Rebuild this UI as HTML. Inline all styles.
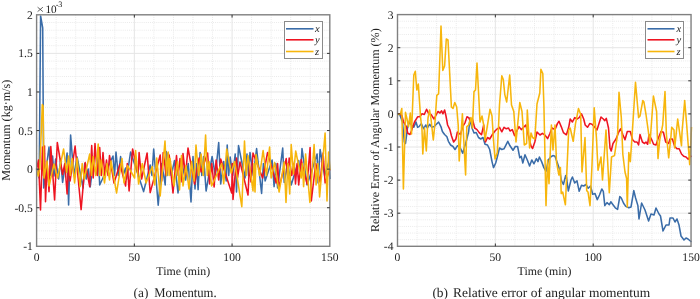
<!DOCTYPE html><html><head><meta charset="utf-8"><style>html,body{margin:0;padding:0;background:#fff;width:700px;height:299px;overflow:hidden}svg{font-family:"Liberation Serif",serif;display:block;text-rendering:geometricPrecision;filter:blur(0.3px)}</style></head><body><svg width="700" height="299" viewBox="0 0 700 299" font-family="Liberation Serif, serif" fill="#222">
<rect width="700" height="299" fill="#fff"/>
<line x1="36.6" x2="329.8" y1="238.58" y2="238.58" stroke="#eaeaea" stroke-width="1" stroke-dasharray="1,1.1"/>
<line x1="36.6" x2="329.8" y1="230.87" y2="230.87" stroke="#eaeaea" stroke-width="1" stroke-dasharray="1,1.1"/>
<line x1="36.6" x2="329.8" y1="223.15" y2="223.15" stroke="#eaeaea" stroke-width="1" stroke-dasharray="1,1.1"/>
<line x1="36.6" x2="329.8" y1="215.43" y2="215.43" stroke="#eaeaea" stroke-width="1" stroke-dasharray="1,1.1"/>
<line x1="36.6" x2="329.8" y1="200.00" y2="200.00" stroke="#eaeaea" stroke-width="1" stroke-dasharray="1,1.1"/>
<line x1="36.6" x2="329.8" y1="192.28" y2="192.28" stroke="#eaeaea" stroke-width="1" stroke-dasharray="1,1.1"/>
<line x1="36.6" x2="329.8" y1="184.57" y2="184.57" stroke="#eaeaea" stroke-width="1" stroke-dasharray="1,1.1"/>
<line x1="36.6" x2="329.8" y1="176.85" y2="176.85" stroke="#eaeaea" stroke-width="1" stroke-dasharray="1,1.1"/>
<line x1="36.6" x2="329.8" y1="161.42" y2="161.42" stroke="#eaeaea" stroke-width="1" stroke-dasharray="1,1.1"/>
<line x1="36.6" x2="329.8" y1="153.70" y2="153.70" stroke="#eaeaea" stroke-width="1" stroke-dasharray="1,1.1"/>
<line x1="36.6" x2="329.8" y1="145.98" y2="145.98" stroke="#eaeaea" stroke-width="1" stroke-dasharray="1,1.1"/>
<line x1="36.6" x2="329.8" y1="138.27" y2="138.27" stroke="#eaeaea" stroke-width="1" stroke-dasharray="1,1.1"/>
<line x1="36.6" x2="329.8" y1="122.83" y2="122.83" stroke="#eaeaea" stroke-width="1" stroke-dasharray="1,1.1"/>
<line x1="36.6" x2="329.8" y1="115.12" y2="115.12" stroke="#eaeaea" stroke-width="1" stroke-dasharray="1,1.1"/>
<line x1="36.6" x2="329.8" y1="107.40" y2="107.40" stroke="#eaeaea" stroke-width="1" stroke-dasharray="1,1.1"/>
<line x1="36.6" x2="329.8" y1="99.68" y2="99.68" stroke="#eaeaea" stroke-width="1" stroke-dasharray="1,1.1"/>
<line x1="36.6" x2="329.8" y1="84.25" y2="84.25" stroke="#eaeaea" stroke-width="1" stroke-dasharray="1,1.1"/>
<line x1="36.6" x2="329.8" y1="76.53" y2="76.53" stroke="#eaeaea" stroke-width="1" stroke-dasharray="1,1.1"/>
<line x1="36.6" x2="329.8" y1="68.82" y2="68.82" stroke="#eaeaea" stroke-width="1" stroke-dasharray="1,1.1"/>
<line x1="36.6" x2="329.8" y1="61.10" y2="61.10" stroke="#eaeaea" stroke-width="1" stroke-dasharray="1,1.1"/>
<line x1="36.6" x2="329.8" y1="45.67" y2="45.67" stroke="#eaeaea" stroke-width="1" stroke-dasharray="1,1.1"/>
<line x1="36.6" x2="329.8" y1="37.95" y2="37.95" stroke="#eaeaea" stroke-width="1" stroke-dasharray="1,1.1"/>
<line x1="36.6" x2="329.8" y1="30.23" y2="30.23" stroke="#eaeaea" stroke-width="1" stroke-dasharray="1,1.1"/>
<line x1="36.6" x2="329.8" y1="22.52" y2="22.52" stroke="#eaeaea" stroke-width="1" stroke-dasharray="1,1.1"/>
<line y1="14.8" y2="246.3" x1="56.15" x2="56.15" stroke="#eaeaea" stroke-width="1" stroke-dasharray="1,1.1"/>
<line y1="14.8" y2="246.3" x1="75.69" x2="75.69" stroke="#eaeaea" stroke-width="1" stroke-dasharray="1,1.1"/>
<line y1="14.8" y2="246.3" x1="95.24" x2="95.24" stroke="#eaeaea" stroke-width="1" stroke-dasharray="1,1.1"/>
<line y1="14.8" y2="246.3" x1="114.79" x2="114.79" stroke="#eaeaea" stroke-width="1" stroke-dasharray="1,1.1"/>
<line y1="14.8" y2="246.3" x1="153.88" x2="153.88" stroke="#eaeaea" stroke-width="1" stroke-dasharray="1,1.1"/>
<line y1="14.8" y2="246.3" x1="173.43" x2="173.43" stroke="#eaeaea" stroke-width="1" stroke-dasharray="1,1.1"/>
<line y1="14.8" y2="246.3" x1="192.97" x2="192.97" stroke="#eaeaea" stroke-width="1" stroke-dasharray="1,1.1"/>
<line y1="14.8" y2="246.3" x1="212.52" x2="212.52" stroke="#eaeaea" stroke-width="1" stroke-dasharray="1,1.1"/>
<line y1="14.8" y2="246.3" x1="251.61" x2="251.61" stroke="#eaeaea" stroke-width="1" stroke-dasharray="1,1.1"/>
<line y1="14.8" y2="246.3" x1="271.16" x2="271.16" stroke="#eaeaea" stroke-width="1" stroke-dasharray="1,1.1"/>
<line y1="14.8" y2="246.3" x1="290.71" x2="290.71" stroke="#eaeaea" stroke-width="1" stroke-dasharray="1,1.1"/>
<line y1="14.8" y2="246.3" x1="310.25" x2="310.25" stroke="#eaeaea" stroke-width="1" stroke-dasharray="1,1.1"/>
<line x1="36.6" x2="329.8" y1="207.72" y2="207.72" stroke="#e5e5e5" stroke-width="1"/>
<line x1="36.6" x2="329.8" y1="169.13" y2="169.13" stroke="#e5e5e5" stroke-width="1"/>
<line x1="36.6" x2="329.8" y1="130.55" y2="130.55" stroke="#e5e5e5" stroke-width="1"/>
<line x1="36.6" x2="329.8" y1="91.97" y2="91.97" stroke="#e5e5e5" stroke-width="1"/>
<line x1="36.6" x2="329.8" y1="53.38" y2="53.38" stroke="#e5e5e5" stroke-width="1"/>
<line y1="14.8" y2="246.3" x1="134.33" x2="134.33" stroke="#e5e5e5" stroke-width="1"/>
<line y1="14.8" y2="246.3" x1="232.07" x2="232.07" stroke="#e5e5e5" stroke-width="1"/>
<polyline points="36.5,169.5 38.0,170.0 39.2,178.0 40.6,16.0 42.7,28.0 43.7,188.0 49.0,147.0 50.8,175.5 52.6,156.0 54.0,176.0 55.6,159.0 58.6,179.0 60.6,159.0 62.6,182.5 67.1,153.0 68.6,205.0 70.6,135.0 73.8,175.5 77.1,157.0 83.1,188.0 84.7,163.5 86.2,179.0 88.2,169.0 90.2,187.0 93.2,163.5 96.2,174.0 98.2,154.5 99.7,185.0 113.0,156.0 114.5,175.5 116.0,152.0 118.3,175.5 120.6,156.5 123.1,175.5 125.6,168.0 126.6,179.0 130.6,152.0 143.6,191.6 150.2,165.0 151.9,175.5 153.7,149.0 158.2,205.3 161.7,163.5 165.2,185.0 166.2,151.5 167.1,175.5 168.0,153.0 171.2,175.5 174.5,160.6 178.0,193.0 181.8,163.5 185.6,180.0 188.3,163.5 191.0,202.0 193.0,156.5 195.0,189.0 196.6,163.5 198.1,189.6 200.1,152.5 201.8,175.5 203.6,156.5 206.1,191.0 212.1,156.5 215.4,175.5 218.7,142.5 220.7,184.0 223.7,161.6 226.2,181.0 227.2,145.0 228.7,175.5 230.2,157.0 232.7,175.5 235.2,154.0 236.5,192.0 238.5,145.5 245.0,178.0 247.0,154.0 248.5,175.5 250.0,152.5 253.3,175.5 256.6,148.5 261.6,193.5 263.4,163.5 265.1,181.0 272.1,160.0 274.1,186.6 275.9,163.5 277.6,188.0 282.7,148.0 284.2,182.5 287.7,163.5 291.2,185.0 298.7,160.6 300.4,175.5 302.0,148.5 307.1,185.0 317.1,154.0 318.1,183.0 320.1,149.5 324.6,175.5 329.1,161.0 330.0,179.0" fill="none" stroke="#3a6ca8" stroke-width="1.55" stroke-linejoin="round"/>
<polyline points="36.5,169.5 38.5,160.0 40.5,210.0 42.5,147.0 43.5,175.5 44.5,146.0 45.5,201.7 47.2,163.5 49.0,191.6 50.8,146.5 54.6,200.0 57.3,142.5 62.6,174.5 64.8,163.5 67.1,194.0 68.6,163.5 70.1,181.0 75.1,146.0 81.1,209.6 85.2,162.6 89.7,186.6 91.7,145.5 93.2,178.0 95.0,143.5 97.3,175.5 99.7,147.5 101.3,175.5 103.0,152.5 104.8,175.5 106.5,160.0 108.0,175.5 109.5,155.5 114.0,183.0 120.0,164.0 125.6,186.0 127.3,163.5 129.1,191.0 132.6,149.0 138.1,174.5 139.1,152.5 141.6,179.0 147.1,153.0 150.2,192.6 160.2,155.0 161.7,181.0 163.2,152.5 166.2,175.5 169.2,155.0 173.0,193.0 176.5,155.5 178.2,175.5 180.0,158.6 182.0,182.0 183.0,153.5 185.5,175.5 188.0,148.0 194.6,184.0 199.1,158.0 201.1,172.0 207.6,153.0 209.6,184.0 211.8,163.5 214.1,187.0 216.1,160.0 218.7,180.0 220.7,159.0 231.7,193.0 232.3,163.5 233.0,199.5 236.5,158.0 237.5,178.0 240.0,162.0 248.0,195.0 249.5,163.5 251.0,182.0 253.0,153.0 262.6,178.0 267.6,152.5 276.1,183.0 277.6,163.5 279.1,188.0 286.2,158.6 287.7,175.5 289.2,158.0 291.7,175.5 294.2,163.0 295.5,184.0 297.1,163.5 298.7,185.0 301.2,159.6 307.1,184.0 310.1,147.5 311.3,201.0 315.7,163.5 320.1,182.0 323.1,153.0 325.1,183.0 330.0,169.0" fill="none" stroke="#ee1421" stroke-width="1.55" stroke-linejoin="round"/>
<polyline points="36.5,169.5 38.2,176.0 39.8,168.0 42.3,104.6 43.1,106.0 44.0,178.0 47.0,161.0 49.0,186.0 54.0,164.0 57.6,178.0 63.6,149.0 66.6,172.5 68.6,156.0 70.3,175.5 72.1,158.5 74.6,183.0 77.1,158.0 80.1,186.6 82.2,163.5 84.2,179.0 89.7,154.0 91.5,175.5 93.2,156.5 95.7,175.5 98.2,144.0 99.7,175.5 101.2,160.0 104.5,183.0 107.0,163.5 109.5,180.0 111.0,161.0 116.6,193.0 122.0,158.5 124.0,183.0 127.6,165.6 134.6,178.0 135.6,150.5 138.6,184.0 142.3,163.5 146.1,183.0 152.2,166.6 154.7,185.0 156.7,158.0 160.2,196.0 165.0,141.0 166.6,175.5 168.2,152.0 169.1,175.5 170.0,158.6 174.0,186.0 177.5,161.6 179.5,190.0 181.5,155.5 183.0,186.0 186.0,165.6 189.0,189.0 191.6,161.6 194.1,181.0 196.0,145.0 198.6,175.5 201.1,154.0 203.3,175.5 205.6,135.0 207.3,175.5 209.1,161.6 211.6,186.0 221.7,163.6 223.7,183.6 226.7,149.0 231.2,173.0 234.7,161.6 241.8,206.7 244.5,141.0 246.2,175.5 248.0,155.5 253.0,191.0 254.0,163.5 255.0,192.0 256.0,154.5 259.6,175.5 263.1,150.5 266.4,175.5 269.6,147.0 271.1,178.0 274.6,162.6 279.1,192.0 284.2,162.0 286.0,202.4 287.9,163.5 289.7,194.0 291.2,144.5 293.5,174.0 295.7,151.0 301.2,178.0 302.4,163.5 303.6,186.6 305.6,154.0 309.9,202.4 314.1,144.5 316.1,185.0 317.9,163.5 319.6,197.0 325.1,133.0 327.0,201.0 328.6,152.0 330.0,170.0" fill="none" stroke="#f7b60c" stroke-width="1.55" stroke-linejoin="round"/>
<rect x="36.6" y="14.8" width="293.2" height="231.5" fill="none" stroke="#808080" stroke-width="1.4"/>
<line x1="36.6" x2="39.4" y1="207.72" y2="207.72" stroke="#333" stroke-width="1"/>
<line x1="329.8" x2="327.0" y1="207.72" y2="207.72" stroke="#333" stroke-width="1"/>
<line x1="36.6" x2="39.4" y1="169.13" y2="169.13" stroke="#333" stroke-width="1"/>
<line x1="329.8" x2="327.0" y1="169.13" y2="169.13" stroke="#333" stroke-width="1"/>
<line x1="36.6" x2="39.4" y1="130.55" y2="130.55" stroke="#333" stroke-width="1"/>
<line x1="329.8" x2="327.0" y1="130.55" y2="130.55" stroke="#333" stroke-width="1"/>
<line x1="36.6" x2="39.4" y1="91.97" y2="91.97" stroke="#333" stroke-width="1"/>
<line x1="329.8" x2="327.0" y1="91.97" y2="91.97" stroke="#333" stroke-width="1"/>
<line x1="36.6" x2="39.4" y1="53.38" y2="53.38" stroke="#333" stroke-width="1"/>
<line x1="329.8" x2="327.0" y1="53.38" y2="53.38" stroke="#333" stroke-width="1"/>
<line y1="246.3" y2="243.5" x1="134.33" x2="134.33" stroke="#333" stroke-width="1"/>
<line y1="14.8" y2="17.6" x1="134.33" x2="134.33" stroke="#333" stroke-width="1"/>
<line y1="246.3" y2="243.5" x1="232.07" x2="232.07" stroke="#333" stroke-width="1"/>
<line y1="14.8" y2="17.6" x1="232.07" x2="232.07" stroke="#333" stroke-width="1"/>
<text x="32.8" y="250.40" text-anchor="end" font-size="11.6">-1</text>
<text x="32.8" y="211.82" text-anchor="end" font-size="11.6">-0.5</text>
<text x="32.8" y="173.23" text-anchor="end" font-size="11.6">0</text>
<text x="32.8" y="134.65" text-anchor="end" font-size="11.6">0.5</text>
<text x="32.8" y="96.07" text-anchor="end" font-size="11.6">1</text>
<text x="32.8" y="57.48" text-anchor="end" font-size="11.6">1.5</text>
<text x="32.8" y="18.90" text-anchor="end" font-size="11.6">2</text>
<text x="36.60" y="261.2" text-anchor="middle" font-size="11.6">0</text>
<text x="134.33" y="261.2" text-anchor="middle" font-size="11.6">50</text>
<text x="232.07" y="261.2" text-anchor="middle" font-size="11.6">100</text>
<text x="329.80" y="261.2" text-anchor="middle" font-size="11.6">150</text>
<rect x="284.5" y="21.5" width="38.0" height="37.0" fill="#fff" stroke="#8a8a8a" stroke-width="1"/>
<line x1="286" x2="313.5" y1="28.8" y2="28.8" stroke="#3a6ca8" stroke-width="1.6"/>
<text x="315" y="32.3" font-size="10.5" font-style="italic">x</text>
<line x1="286" x2="313.5" y1="39.8" y2="39.8" stroke="#ee1421" stroke-width="1.6"/>
<text x="315" y="43.3" font-size="10.5" font-style="italic">y</text>
<line x1="286" x2="313.5" y1="51.5" y2="51.5" stroke="#f7b60c" stroke-width="1.6"/>
<text x="315" y="55.0" font-size="10.5" font-style="italic">z</text>
<line x1="37.6" y1="7.2" x2="42.9" y2="11.6" stroke="#333" stroke-width="0.75"/>
<line x1="42.9" y1="7.2" x2="37.6" y2="11.6" stroke="#333" stroke-width="0.75"/>
<text x="45.4" y="12.5" font-size="11.2">10</text>
<line x1="56.2" y1="5.4" x2="58.0" y2="5.4" stroke="#444" stroke-width="0.8"/>
<text x="58.3" y="6.6" font-size="8.2">3</text>
<text transform="translate(10.2,130.3) rotate(-90)" text-anchor="middle" font-size="12.1">Momentum (kg·m/s)</text>
<text x="183.3" y="274.9" text-anchor="middle" font-size="11.85">Time (min)</text>
<text x="133.6" y="296.5" font-size="13.4" fill="#2a2a2a">(a)</text>
<text x="154.3" y="296.5" font-size="13.4" textLength="62.3" lengthAdjust="spacingAndGlyphs">Momentum.</text>
<line x1="397.5" x2="691.05" y1="239.68" y2="239.68" stroke="#eaeaea" stroke-width="1" stroke-dasharray="1,1.1"/>
<line x1="397.5" x2="691.05" y1="233.06" y2="233.06" stroke="#eaeaea" stroke-width="1" stroke-dasharray="1,1.1"/>
<line x1="397.5" x2="691.05" y1="226.44" y2="226.44" stroke="#eaeaea" stroke-width="1" stroke-dasharray="1,1.1"/>
<line x1="397.5" x2="691.05" y1="219.82" y2="219.82" stroke="#eaeaea" stroke-width="1" stroke-dasharray="1,1.1"/>
<line x1="397.5" x2="691.05" y1="206.58" y2="206.58" stroke="#eaeaea" stroke-width="1" stroke-dasharray="1,1.1"/>
<line x1="397.5" x2="691.05" y1="199.96" y2="199.96" stroke="#eaeaea" stroke-width="1" stroke-dasharray="1,1.1"/>
<line x1="397.5" x2="691.05" y1="193.34" y2="193.34" stroke="#eaeaea" stroke-width="1" stroke-dasharray="1,1.1"/>
<line x1="397.5" x2="691.05" y1="186.72" y2="186.72" stroke="#eaeaea" stroke-width="1" stroke-dasharray="1,1.1"/>
<line x1="397.5" x2="691.05" y1="173.48" y2="173.48" stroke="#eaeaea" stroke-width="1" stroke-dasharray="1,1.1"/>
<line x1="397.5" x2="691.05" y1="166.86" y2="166.86" stroke="#eaeaea" stroke-width="1" stroke-dasharray="1,1.1"/>
<line x1="397.5" x2="691.05" y1="160.24" y2="160.24" stroke="#eaeaea" stroke-width="1" stroke-dasharray="1,1.1"/>
<line x1="397.5" x2="691.05" y1="153.62" y2="153.62" stroke="#eaeaea" stroke-width="1" stroke-dasharray="1,1.1"/>
<line x1="397.5" x2="691.05" y1="140.38" y2="140.38" stroke="#eaeaea" stroke-width="1" stroke-dasharray="1,1.1"/>
<line x1="397.5" x2="691.05" y1="133.76" y2="133.76" stroke="#eaeaea" stroke-width="1" stroke-dasharray="1,1.1"/>
<line x1="397.5" x2="691.05" y1="127.14" y2="127.14" stroke="#eaeaea" stroke-width="1" stroke-dasharray="1,1.1"/>
<line x1="397.5" x2="691.05" y1="120.52" y2="120.52" stroke="#eaeaea" stroke-width="1" stroke-dasharray="1,1.1"/>
<line x1="397.5" x2="691.05" y1="107.28" y2="107.28" stroke="#eaeaea" stroke-width="1" stroke-dasharray="1,1.1"/>
<line x1="397.5" x2="691.05" y1="100.66" y2="100.66" stroke="#eaeaea" stroke-width="1" stroke-dasharray="1,1.1"/>
<line x1="397.5" x2="691.05" y1="94.04" y2="94.04" stroke="#eaeaea" stroke-width="1" stroke-dasharray="1,1.1"/>
<line x1="397.5" x2="691.05" y1="87.42" y2="87.42" stroke="#eaeaea" stroke-width="1" stroke-dasharray="1,1.1"/>
<line x1="397.5" x2="691.05" y1="74.18" y2="74.18" stroke="#eaeaea" stroke-width="1" stroke-dasharray="1,1.1"/>
<line x1="397.5" x2="691.05" y1="67.56" y2="67.56" stroke="#eaeaea" stroke-width="1" stroke-dasharray="1,1.1"/>
<line x1="397.5" x2="691.05" y1="60.94" y2="60.94" stroke="#eaeaea" stroke-width="1" stroke-dasharray="1,1.1"/>
<line x1="397.5" x2="691.05" y1="54.32" y2="54.32" stroke="#eaeaea" stroke-width="1" stroke-dasharray="1,1.1"/>
<line x1="397.5" x2="691.05" y1="41.08" y2="41.08" stroke="#eaeaea" stroke-width="1" stroke-dasharray="1,1.1"/>
<line x1="397.5" x2="691.05" y1="34.46" y2="34.46" stroke="#eaeaea" stroke-width="1" stroke-dasharray="1,1.1"/>
<line x1="397.5" x2="691.05" y1="27.84" y2="27.84" stroke="#eaeaea" stroke-width="1" stroke-dasharray="1,1.1"/>
<line x1="397.5" x2="691.05" y1="21.22" y2="21.22" stroke="#eaeaea" stroke-width="1" stroke-dasharray="1,1.1"/>
<line y1="14.6" y2="246.3" x1="417.07" x2="417.07" stroke="#eaeaea" stroke-width="1" stroke-dasharray="1,1.1"/>
<line y1="14.6" y2="246.3" x1="436.64" x2="436.64" stroke="#eaeaea" stroke-width="1" stroke-dasharray="1,1.1"/>
<line y1="14.6" y2="246.3" x1="456.21" x2="456.21" stroke="#eaeaea" stroke-width="1" stroke-dasharray="1,1.1"/>
<line y1="14.6" y2="246.3" x1="475.78" x2="475.78" stroke="#eaeaea" stroke-width="1" stroke-dasharray="1,1.1"/>
<line y1="14.6" y2="246.3" x1="514.92" x2="514.92" stroke="#eaeaea" stroke-width="1" stroke-dasharray="1,1.1"/>
<line y1="14.6" y2="246.3" x1="534.49" x2="534.49" stroke="#eaeaea" stroke-width="1" stroke-dasharray="1,1.1"/>
<line y1="14.6" y2="246.3" x1="554.06" x2="554.06" stroke="#eaeaea" stroke-width="1" stroke-dasharray="1,1.1"/>
<line y1="14.6" y2="246.3" x1="573.63" x2="573.63" stroke="#eaeaea" stroke-width="1" stroke-dasharray="1,1.1"/>
<line y1="14.6" y2="246.3" x1="612.77" x2="612.77" stroke="#eaeaea" stroke-width="1" stroke-dasharray="1,1.1"/>
<line y1="14.6" y2="246.3" x1="632.34" x2="632.34" stroke="#eaeaea" stroke-width="1" stroke-dasharray="1,1.1"/>
<line y1="14.6" y2="246.3" x1="651.91" x2="651.91" stroke="#eaeaea" stroke-width="1" stroke-dasharray="1,1.1"/>
<line y1="14.6" y2="246.3" x1="671.48" x2="671.48" stroke="#eaeaea" stroke-width="1" stroke-dasharray="1,1.1"/>
<line x1="397.5" x2="691.05" y1="213.20" y2="213.20" stroke="#e5e5e5" stroke-width="1"/>
<line x1="397.5" x2="691.05" y1="180.10" y2="180.10" stroke="#e5e5e5" stroke-width="1"/>
<line x1="397.5" x2="691.05" y1="147.00" y2="147.00" stroke="#e5e5e5" stroke-width="1"/>
<line x1="397.5" x2="691.05" y1="113.90" y2="113.90" stroke="#e5e5e5" stroke-width="1"/>
<line x1="397.5" x2="691.05" y1="80.80" y2="80.80" stroke="#e5e5e5" stroke-width="1"/>
<line x1="397.5" x2="691.05" y1="47.70" y2="47.70" stroke="#e5e5e5" stroke-width="1"/>
<line y1="14.6" y2="246.3" x1="495.35" x2="495.35" stroke="#e5e5e5" stroke-width="1"/>
<line y1="14.6" y2="246.3" x1="593.20" x2="593.20" stroke="#e5e5e5" stroke-width="1"/>
<polyline points="397.5,114.5 399.5,114.0 402.5,122.0 404.3,142.0 405.5,143.5 407.5,128.0 409.3,122.0 411.5,125.0 413.8,127.3 416.0,122.0 417.6,127.3 419.0,126.6 421.3,123.6 423.6,128.8 425.8,125.0 427.3,128.0 429.6,124.3 431.8,127.3 434.0,126.6 436.4,124.3 438.6,122.0 440.9,126.6 442.4,131.5 444.6,134.5 446.9,136.8 448.4,141.3 450.6,145.0 453.0,146.5 455.0,149.5 457.4,145.8 459.7,146.5 462.7,153.3 464.2,148.0 465.7,143.5 467.2,137.5 468.7,131.5 470.0,118.0 471.0,123.6 472.0,128.0 474.0,133.0 476.2,132.5 478.5,137.5 480.7,139.0 483.0,137.5 485.0,144.3 487.5,145.0 489.7,149.5 492.0,161.6 493.5,167.6 495.7,163.0 497.3,157.0 499.5,148.0 501.8,149.5 504.0,148.8 507.8,141.3 510.0,145.8 513.0,150.3 515.3,146.5 517.6,146.5 519.8,157.8 521.3,156.3 522.8,163.0 525.0,154.8 527.3,160.0 529.6,166.0 531.8,160.0 534.0,163.8 536.4,158.6 538.0,161.6 539.4,157.0 541.6,161.6 543.9,167.6 546.0,171.4 548.4,160.0 550.6,157.0 552.9,155.6 555.0,156.3 557.4,163.0 559.7,169.8 561.2,180.0 563.4,184.5 565.7,175.5 566.5,177.0 568.3,191.0 571.0,180.0 572.4,177.0 574.7,183.0 577.0,180.8 579.2,191.3 581.5,185.3 583.7,186.0 586.0,184.5 588.2,188.3 590.5,186.0 592.7,194.3 595.0,193.6 597.3,199.6 599.5,195.0 601.8,189.0 603.3,191.3 604.8,205.6 607.0,202.6 609.3,204.8 610.8,201.8 613.0,204.8 615.3,207.8 617.6,209.4 619.8,196.6 621.3,198.0 623.6,203.3 625.8,206.4 628.8,207.8 631.0,207.0 633.8,190.6 635.6,198.0 637.9,205.6 639.0,219.0 641.6,203.0 645.0,210.0 648.6,221.0 651.0,214.0 654.0,215.0 656.0,208.0 659.0,214.0 660.5,216.0 663.0,231.0 666.0,225.0 669.0,225.0 670.0,218.0 673.0,218.0 675.0,222.0 677.0,219.0 679.0,225.0 681.0,236.0 684.0,240.0 686.0,238.0 688.0,239.0 691.5,242.0" fill="none" stroke="#3a6ca8" stroke-width="1.55" stroke-linejoin="round"/>
<polyline points="397.5,114.5 399.5,113.8 401.8,115.3 403.3,121.3 406.3,126.6 407.8,133.3 410.0,134.5 411.5,130.8 412.3,128.0 414.5,122.0 417.6,116.8 419.8,116.8 422.0,113.8 424.3,114.5 426.6,109.3 428.8,113.8 431.0,114.5 434.0,119.0 436.4,114.5 437.9,111.5 440.0,113.0 441.6,110.8 443.0,113.8 444.6,110.0 446.0,116.0 447.6,125.0 449.9,129.6 451.5,136.0 453.6,142.0 455.9,139.0 457.4,132.0 459.0,133.3 460.5,134.5 462.7,126.6 465.0,122.8 467.0,116.8 468.7,117.6 470.0,120.6 472.4,119.0 474.7,128.0 477.0,129.6 479.2,132.6 481.5,134.8 483.7,125.0 485.5,142.0 487.5,137.5 489.7,139.0 492.7,134.0 495.0,131.0 497.3,128.8 499.5,127.3 501.8,131.8 504.0,127.3 506.3,128.8 508.5,128.0 510.0,131.0 512.3,129.6 514.5,135.6 516.8,131.0 519.0,126.6 521.3,129.6 523.6,127.3 525.8,125.0 528.5,136.0 531.0,146.0 532.6,148.5 534.8,142.0 537.0,132.0 540.0,135.0 542.4,133.3 544.6,134.8 547.6,138.6 550.0,133.3 552.0,128.0 555.0,129.6 557.4,123.6 559.0,121.3 561.2,126.6 563.4,132.6 566.4,134.8 568.7,127.3 570.2,119.0 572.4,122.0 574.7,117.6 577.0,119.0 579.2,117.6 581.5,113.8 583.7,119.0 585.2,125.0 587.5,127.3 589.7,123.6 592.0,124.3 594.2,126.6 597.0,130.0 601.0,117.0 603.3,119.0 604.8,120.6 606.3,118.3 608.5,128.0 610.0,148.0 611.2,151.0 613.0,143.5 616.0,139.0 619.0,131.5 620.6,128.8 622.8,134.5 625.0,139.8 627.3,131.5 630.3,131.5 632.6,139.8 634.8,142.0 637.0,142.0 638.6,145.0 640.0,134.5 642.4,142.0 644.6,143.5 646.0,142.0 647.6,144.3 649.0,134.5 651.4,139.0 653.6,144.3 656.0,145.0 658.0,139.0 661.0,131.5 663.4,132.3 665.7,142.0 668.7,143.5 670.0,139.0 672.4,139.0 674.7,146.5 677.0,148.8 679.2,148.8 681.5,154.0 683.7,156.3 686.0,157.0 688.2,159.3 690.5,155.6 691.5,157.0" fill="none" stroke="#ee1421" stroke-width="1.55" stroke-linejoin="round"/>
<polyline points="397.5,114.5 399.0,114.5 400.5,113.8 401.8,108.5 403.4,189.0 405.5,112.3 407.0,119.0 408.5,126.6 410.3,113.0 411.5,134.0 413.8,75.0 415.3,71.3 416.8,90.0 418.3,84.0 420.6,117.6 422.0,129.6 422.8,154.0 424.5,128.0 426.3,151.0 428.0,118.0 429.6,110.0 431.0,119.0 433.3,140.0 434.8,125.0 436.8,95.3 438.6,93.8 441.0,26.0 442.8,70.5 444.6,66.0 446.3,39.0 448.0,40.0 451.4,107.0 453.0,108.5 454.8,102.5 456.7,107.0 458.2,125.0 459.2,161.0 462.4,113.8 465.6,175.0 466.8,126.6 468.7,125.0 471.0,117.6 472.4,128.0 474.0,91.6 475.5,90.0 477.0,63.0 479.2,105.0 480.0,122.0 482.0,116.0 483.7,125.0 485.0,140.0 487.5,125.0 490.0,109.3 492.0,116.0 493.5,140.0 495.0,159.0 497.3,152.5 499.5,105.0 501.8,75.8 503.3,79.5 504.8,94.6 506.7,102.0 509.7,75.0 511.5,105.0 513.8,111.5 516.0,142.0 519.8,102.5 522.0,111.5 524.3,145.0 526.6,143.5 527.3,110.0 529.6,148.0 531.0,133.0 532.6,137.5 534.8,139.0 537.0,104.0 539.8,93.0 540.9,69.3 542.8,73.5 543.9,105.0 546.0,205.6 547.6,160.0 549.0,183.8 551.4,125.0 553.0,150.0 555.0,125.0 556.5,162.0 558.9,175.0 560.4,167.6 561.2,193.6 562.7,192.0 565.4,204.8 568.7,130.0 570.2,128.0 573.2,141.3 575.5,123.6 578.5,108.5 580.7,114.5 582.0,172.0 585.0,137.5 586.7,190.6 588.0,192.0 590.0,205.6 592.0,165.0 594.2,107.8 596.5,138.6 598.0,170.3 601.0,157.0 602.5,180.0 606.0,130.0 609.3,192.8 611.5,157.0 614.5,155.6 617.6,134.5 619.0,92.3 621.3,117.6 622.8,154.0 625.0,172.0 626.6,178.5 627.3,207.0 628.8,152.5 630.3,161.6 631.8,140.0 635.5,82.3 638.6,117.6 640.0,116.0 642.8,100.6 643.9,101.8 646.0,114.5 650.0,143.5 653.4,96.0 656.6,111.5 658.0,158.6 659.7,140.0 662.7,125.0 665.0,91.6 666.4,134.5 668.7,157.8 671.0,136.0 671.7,127.3 674.0,130.0 674.7,148.0 677.7,119.0 681.5,145.8 682.0,132.6 684.7,100.6 686.7,125.0 689.7,164.6 691.5,127.0" fill="none" stroke="#f7b60c" stroke-width="1.55" stroke-linejoin="round"/>
<rect x="397.5" y="14.6" width="293.54999999999995" height="231.70000000000002" fill="none" stroke="#808080" stroke-width="1.4"/>
<line x1="397.5" x2="400.3" y1="213.20" y2="213.20" stroke="#333" stroke-width="1"/>
<line x1="691.05" x2="688.25" y1="213.20" y2="213.20" stroke="#333" stroke-width="1"/>
<line x1="397.5" x2="400.3" y1="180.10" y2="180.10" stroke="#333" stroke-width="1"/>
<line x1="691.05" x2="688.25" y1="180.10" y2="180.10" stroke="#333" stroke-width="1"/>
<line x1="397.5" x2="400.3" y1="147.00" y2="147.00" stroke="#333" stroke-width="1"/>
<line x1="691.05" x2="688.25" y1="147.00" y2="147.00" stroke="#333" stroke-width="1"/>
<line x1="397.5" x2="400.3" y1="113.90" y2="113.90" stroke="#333" stroke-width="1"/>
<line x1="691.05" x2="688.25" y1="113.90" y2="113.90" stroke="#333" stroke-width="1"/>
<line x1="397.5" x2="400.3" y1="80.80" y2="80.80" stroke="#333" stroke-width="1"/>
<line x1="691.05" x2="688.25" y1="80.80" y2="80.80" stroke="#333" stroke-width="1"/>
<line x1="397.5" x2="400.3" y1="47.70" y2="47.70" stroke="#333" stroke-width="1"/>
<line x1="691.05" x2="688.25" y1="47.70" y2="47.70" stroke="#333" stroke-width="1"/>
<line y1="246.3" y2="243.5" x1="495.35" x2="495.35" stroke="#333" stroke-width="1"/>
<line y1="14.6" y2="17.4" x1="495.35" x2="495.35" stroke="#333" stroke-width="1"/>
<line y1="246.3" y2="243.5" x1="593.20" x2="593.20" stroke="#333" stroke-width="1"/>
<line y1="14.6" y2="17.4" x1="593.20" x2="593.20" stroke="#333" stroke-width="1"/>
<text x="393.5" y="250.40" text-anchor="end" font-size="11.6">-4</text>
<text x="393.5" y="217.30" text-anchor="end" font-size="11.6">-3</text>
<text x="393.5" y="184.20" text-anchor="end" font-size="11.6">-2</text>
<text x="393.5" y="151.10" text-anchor="end" font-size="11.6">-1</text>
<text x="393.5" y="118.00" text-anchor="end" font-size="11.6">0</text>
<text x="393.5" y="84.90" text-anchor="end" font-size="11.6">1</text>
<text x="393.5" y="51.80" text-anchor="end" font-size="11.6">2</text>
<text x="393.5" y="18.70" text-anchor="end" font-size="11.6">3</text>
<text x="397.50" y="261.2" text-anchor="middle" font-size="11.6">0</text>
<text x="495.35" y="261.2" text-anchor="middle" font-size="11.6">50</text>
<text x="593.20" y="261.2" text-anchor="middle" font-size="11.6">100</text>
<text x="691.05" y="261.2" text-anchor="middle" font-size="11.6">150</text>
<rect x="645.5" y="21.5" width="38.0" height="37.0" fill="#fff" stroke="#8a8a8a" stroke-width="1"/>
<line x1="647.5" x2="674.5" y1="28.8" y2="28.8" stroke="#3a6ca8" stroke-width="1.6"/>
<text x="676.5" y="32.3" font-size="10.5" font-style="italic">x</text>
<line x1="647.5" x2="674.5" y1="39.8" y2="39.8" stroke="#ee1421" stroke-width="1.6"/>
<text x="676.5" y="43.3" font-size="10.5" font-style="italic">y</text>
<line x1="647.5" x2="674.5" y1="51.5" y2="51.5" stroke="#f7b60c" stroke-width="1.6"/>
<text x="676.5" y="55.0" font-size="10.5" font-style="italic">z</text>
<text transform="translate(379,130.2) rotate(-90)" text-anchor="middle" font-size="12.05">Relative Error of Angular Momentum (%)</text>
<text x="544.5" y="274.9" text-anchor="middle" font-size="11.85">Time (min)</text>
<text x="432.4" y="296.5" font-size="13.4">(b)</text>
<text x="453" y="296.5" font-size="13.4" textLength="197.2" lengthAdjust="spacingAndGlyphs">Relative error of angular momentum</text>
</svg></body></html>
